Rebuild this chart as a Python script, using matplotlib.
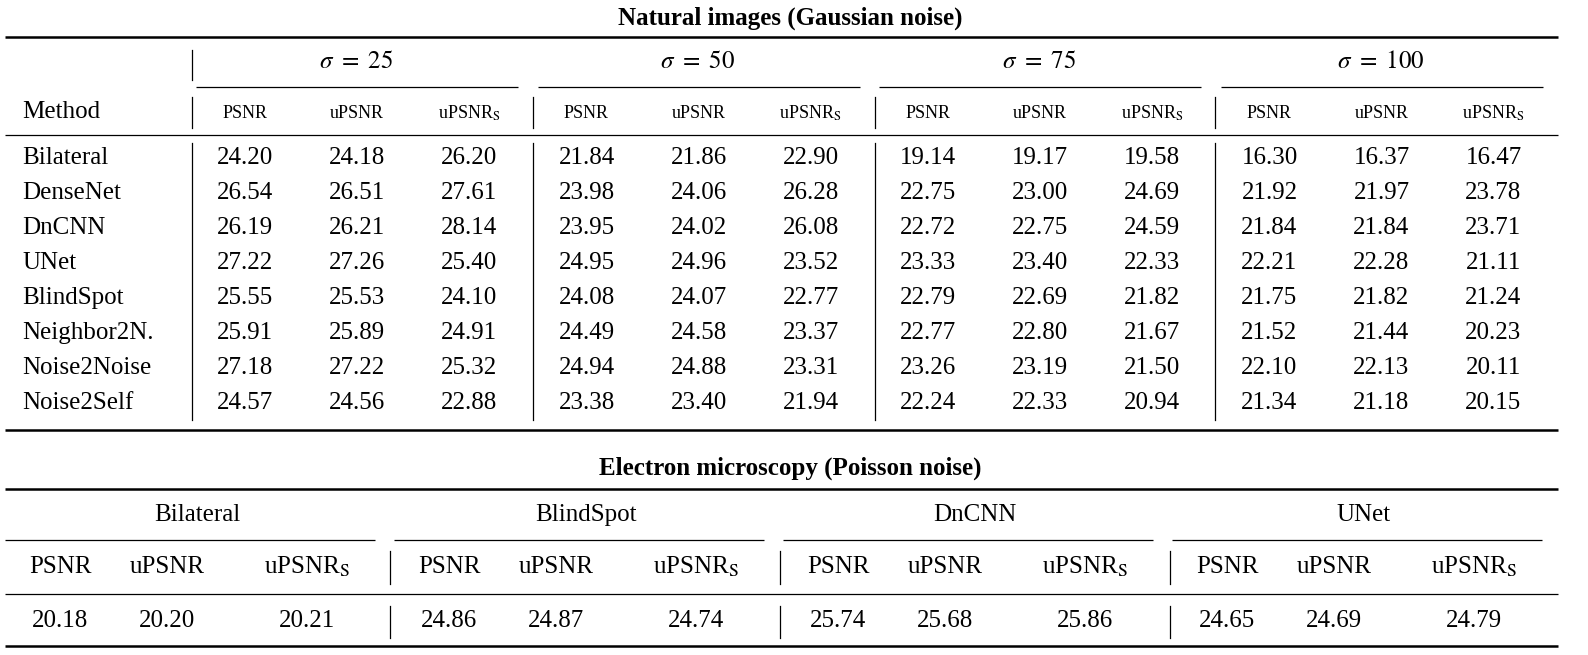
import matplotlib
matplotlib.use('Agg')
import matplotlib.pyplot as plt

plt.rcParams['font.family'] = ['Liberation Serif', 'DejaVu Serif']
plt.rcParams['mathtext.fontset'] = 'stix'

# --- data ---
methods = ['Bilateral', 'DenseNet', 'DnCNN', 'UNet', 'BlindSpot',
           'Neighbor2N.', 'Noise2Noise', 'Noise2Self']
sigmas = ['25', '50', '75', '100']
metrics = ['PSNR', 'uPSNR', r'uPSNR$_\mathrm{S}$']
natural = [
    [24.20, 24.18, 26.20, 21.84, 21.86, 22.90, 19.14, 19.17, 19.58, 16.30, 16.37, 16.47],
    [26.54, 26.51, 27.61, 23.98, 24.06, 26.28, 22.75, 23.00, 24.69, 21.92, 21.97, 23.78],
    [26.19, 26.21, 28.14, 23.95, 24.02, 26.08, 22.72, 22.75, 24.59, 21.84, 21.84, 23.71],
    [27.22, 27.26, 25.40, 24.95, 24.96, 23.52, 23.33, 23.40, 22.33, 22.21, 22.28, 21.11],
    [25.55, 25.53, 24.10, 24.08, 24.07, 22.77, 22.79, 22.69, 21.82, 21.75, 21.82, 21.24],
    [25.91, 25.89, 24.91, 24.49, 24.58, 23.37, 22.77, 22.80, 21.67, 21.52, 21.44, 20.23],
    [27.18, 27.22, 25.32, 24.94, 24.88, 23.31, 23.26, 23.19, 21.50, 22.10, 22.13, 20.11],
    [24.57, 24.56, 22.88, 23.38, 23.40, 21.94, 22.24, 22.33, 20.94, 21.34, 21.18, 20.15],
]
em_methods = ['Bilateral', 'BlindSpot', 'DnCNN', 'UNet']
em_values = [20.18, 20.20, 20.21, 24.86, 24.87, 24.74, 25.74, 25.68, 25.86, 24.65, 24.69, 24.79]

fig = plt.figure(figsize=(15.88, 6.55), dpi=100)
ax = fig.add_axes([0, 0, 1, 1])
ax.set_xlim(0, 1588)
ax.set_ylim(655, 0)
ax.axis('off')

fs = 18
k = 'black'

def hline(y, x0, x1, lw):
    ax.plot([x0, x1], [y, y], color=k, lw=lw, solid_capstyle='butt')

def vline(x, y0, y1):
    ax.plot([x, x], [y0, y1], color=k, lw=0.9)

# --- top table ---
ax.text(790, 18, 'Natural images (Gaussian noise)', fontsize=fs, fontweight='bold',
        ha='center', va='center')
hline(37, 5, 1558, 1.8)
gstep = 341.5
for g, s in enumerate(sigmas):
    cx = 356 + g * gstep
    ax.text(cx, 62, r'$\sigma\ =\ %s$' % s, fontsize=fs, ha='center', va='center')
    hline(87, 196 + g * gstep, 518 + g * gstep, 0.9)
    for m, lab in enumerate(metrics):
        ax.text(245 + g * gstep + m * 112, 113, lab, fontsize=13, ha='center', va='center')
vline(192, 50, 80)
for xb in [192, 533, 875, 1215]:
    vline(xb, 97, 128)
ax.text(22, 112, 'Method', fontsize=fs, ha='left', va='center')
hline(135, 5, 1558, 0.9)
for i, name in enumerate(methods):
    y = 158 + i * 35
    ax.text(22, y, name, fontsize=fs, ha='left', va='center')
    for j, v in enumerate(natural[i]):
        g, m = divmod(j, 3)
        ax.text(245 + g * gstep + m * 112, y, '%.2f' % v, fontsize=fs,
                ha='center', va='center')
for xb in [192, 533, 875, 1215]:
    vline(xb, 143, 420)
hline(430, 5, 1558, 1.8)

# --- bottom table ---
ax.text(790, 468, 'Electron microscopy (Poisson noise)', fontsize=fs, fontweight='bold',
        ha='center', va='center')
hline(489, 5, 1558, 1.8)
estep = 389
for g, name in enumerate(em_methods):
    ax.text(197 + g * estep, 515, name, fontsize=fs, ha='center', va='center')
    hline(540, 5 + g * estep if g else 5, 375 + g * estep, 0.9)
    for m, lab in enumerate(metrics):
        x = [60, 167, 307][m] + g * estep
        ax.text(x, 567, lab, fontsize=fs, ha='center', va='center')
        ax.text(x, 621, '%.2f' % em_values[g * 3 + m], fontsize=fs,
                ha='center', va='center')
for xb in [390, 780, 1170]:
    vline(xb, 551, 584)
    vline(xb, 606, 638)
hline(594, 5, 1558, 0.9)
hline(646, 5, 1558, 1.8)

fig.savefig('out.png', dpi=100)
